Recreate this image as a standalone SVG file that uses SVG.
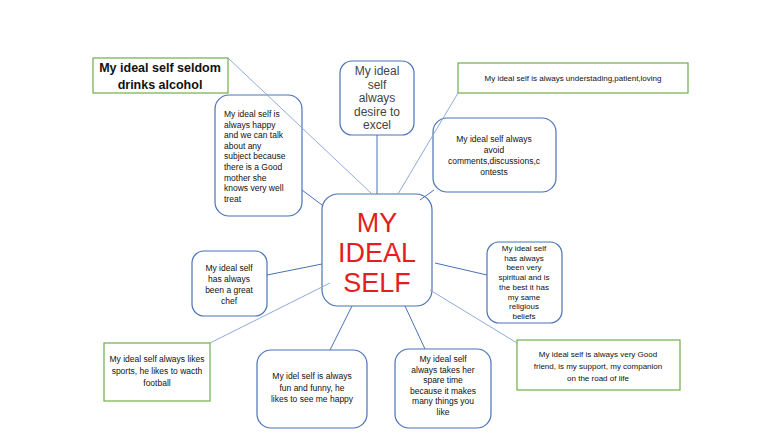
<svg xmlns="http://www.w3.org/2000/svg" width="768" height="433" viewBox="0 0 768 433">
<style>
.b{fill:#fff;stroke:#4a72b8;stroke-width:1.2}
.g{fill:#fff;stroke:#70ad47;stroke-width:1.2}
.t{font-family:"Liberation Sans",Arial,sans-serif;font-size:8.5px;fill:#111;text-anchor:middle}
.l{stroke:#4a72b8;stroke-width:1;fill:none}
.lt{stroke:#8faadc;stroke-width:1;fill:none}
</style>
<rect width="768" height="433" fill="#fff"/>
<g id="center"><rect class="b" x="322" y="194" width="110" height="112" rx="16"/>
<text x="377" y="232" style="font-family:'Liberation Sans',Arial,sans-serif;font-size:27px;fill:#e41e1e;text-anchor:middle">MY</text>
<text x="377" y="262" style="font-family:'Liberation Sans',Arial,sans-serif;font-size:27px;fill:#e41e1e;text-anchor:middle">IDEAL</text>
<text x="377" y="292" style="font-family:'Liberation Sans',Arial,sans-serif;font-size:27px;fill:#e41e1e;text-anchor:middle">SELF</text></g>
<g id="alcohol"><rect class="g" x="93" y="58" width="135" height="35"/>
<text class="t" style="font-size:12.5px;font-weight:bold" x="160" y="72">My ideal self seldom</text>
<text class="t" style="font-size:12.5px;font-weight:bold" x="160" y="89">drinks alcohol</text></g>
<g id="happy"><rect class="b" x="215" y="95" width="87" height="121" rx="14"/>
<text class="t" style="text-anchor:start" x="224" y="117"><tspan x="224">My ideal self is</tspan><tspan x="224" dy="10.6">always happy</tspan><tspan x="224" dy="10.6">and we can talk</tspan><tspan x="224" dy="10.6">about any</tspan><tspan x="224" dy="10.6">subject because</tspan><tspan x="224" dy="10.6">there is a Good</tspan><tspan x="224" dy="10.6">mother she</tspan><tspan x="224" dy="10.6">knows very well</tspan><tspan x="224" dy="10.6">treat</tspan></text></g>
<g id="excel"><rect class="b" x="340" y="61" width="74" height="74" rx="12"/>
<text class="t" style="font-size:12px;fill:#444" x="377" y="75"><tspan x="377">My ideal</tspan><tspan x="377" dy="13.6">self</tspan><tspan x="377" dy="13.6">always</tspan><tspan x="377" dy="13.6">desire to</tspan><tspan x="377" dy="13.6">excel</tspan></text></g>
<g id="understanding"><rect class="g" x="458" y="63" width="230" height="30"/>
<text class="t" style="font-size:8px" x="573" y="81">My ideal self is always understading,patient,loving</text></g>
<g id="avoid"><rect class="b" x="433" y="118" width="123" height="74" rx="14"/>
<text class="t" x="494" y="142"><tspan x="494">My ideal self always</tspan><tspan x="494" dy="11">avoid</tspan><tspan x="494" dy="11">comments,discussions,c</tspan><tspan x="494" dy="11">ontests</tspan></text></g>
<g id="spiritual"><rect class="b" x="487" y="242" width="75" height="81" rx="12"/>
<text class="t" style="font-size:8px" x="524" y="251"><tspan x="524">My ideal self</tspan><tspan x="524" dy="9.7">has always</tspan><tspan x="524" dy="9.7">been very</tspan><tspan x="524" dy="9.7">spiritual and is</tspan><tspan x="524" dy="9.7">the best it has</tspan><tspan x="524" dy="9.7">my same</tspan><tspan x="524" dy="9.7">religious</tspan><tspan x="524" dy="9.7">beliefs</tspan></text></g>
<g id="chef"><rect class="b" x="192" y="251" width="75" height="65" rx="12"/>
<text class="t" x="229" y="271"><tspan x="229">My ideal self</tspan><tspan x="229" dy="11">has always</tspan><tspan x="229" dy="11">been a great</tspan><tspan x="229" dy="11">chef</tspan></text></g>
<g id="sports"><rect class="g" x="104" y="343" width="106" height="58"/>
<text class="t" x="157" y="362"><tspan x="157">My ideal self always likes</tspan><tspan x="157" dy="12">sports, he likes to wacth</tspan><tspan x="157" dy="12">football</tspan></text></g>
<g id="fun"><rect class="b" x="257" y="350" width="110" height="78" rx="14"/>
<text class="t" x="312" y="379"><tspan x="312">My idel self is always</tspan><tspan x="312" dy="11.5">fun and funny, he</tspan><tspan x="312" dy="11.5">likes to see me happy</tspan></text></g>
<g id="sparetime"><rect class="b" x="395" y="349" width="96" height="79" rx="14"/>
<text class="t" x="443" y="362"><tspan x="443">My ideal self</tspan><tspan x="443" dy="10.5">always takes her</tspan><tspan x="443" dy="10.5">spare time</tspan><tspan x="443" dy="10.5">because it makes</tspan><tspan x="443" dy="10.5">many things you</tspan><tspan x="443" dy="10.5">like</tspan></text></g>
<g id="friend"><rect class="g" x="517" y="340" width="163" height="50"/>
<text class="t" style="font-size:8px" x="598" y="357"><tspan x="598">My ideal self is always very Good</tspan><tspan x="598" dy="12">friend, is my support, my companion</tspan><tspan x="598" dy="12">on the road of life</tspan></text></g>
<g id="connectors">
<line class="lt" x1="228" y1="58" x2="372" y2="194"/>
<line class="l" x1="302" y1="190" x2="322" y2="205"/>
<line class="l" x1="377" y1="135" x2="377" y2="194"/>
<line class="lt" x1="458" y1="93" x2="398" y2="194"/>
<line class="l" x1="434" y1="190" x2="420" y2="200"/>
<line class="l" x1="435" y1="263" x2="487" y2="275"/>
<line class="l" x1="267" y1="275" x2="322" y2="264"/>
<line class="lt" x1="210" y1="343" x2="330" y2="283"/>
<line class="l" x1="352" y1="306" x2="330" y2="350"/>
<line class="l" x1="405" y1="306" x2="425" y2="349"/>
<line class="lt" x1="430" y1="290" x2="517" y2="343"/>
</g>
</svg>
